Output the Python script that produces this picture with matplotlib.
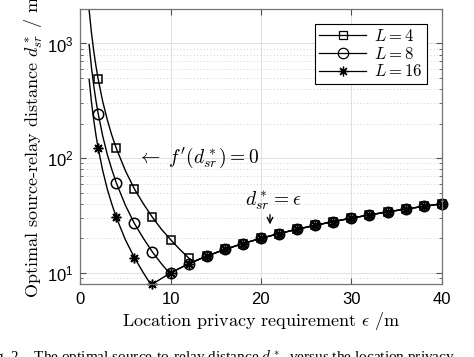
import numpy as np
import matplotlib.pyplot as plt

plt.rcParams['mathtext.fontset'] = 'cm'
plt.rcParams['font.family'] = ['Liberation Sans', 'DejaVu Sans']

# smooth curves
eps_l4 = [1, 1.25, 1.5, 1.75, 2, 2.5, 3, 3.5, 4, 5, 6, 7, 8, 9, 10, 11, 12, 12.5,
          14, 16, 18, 20, 22, 24, 26, 28, 30, 32, 34, 36, 38, 40]
d_l4 = [1950, 1250, 867, 637, 488, 312, 217, 159, 122, 78, 54, 40, 30.5, 24, 19.5, 16.1, 13.5, 12.5,
        14, 16, 18, 20, 22, 24, 26, 28, 30, 32, 34, 36, 38, 40]
eps_l8 = [1, 1.25, 1.5, 1.75, 2, 2.5, 3, 3.5, 4, 5, 6, 7, 8, 9, 9.9,
          12, 14, 16, 18, 20, 22, 24, 26, 28, 30, 32, 34, 36, 38, 40]
d_l8 = [975, 624, 433, 318, 244, 156, 108, 80, 61, 39, 27, 20, 15.2, 12.0, 9.9,
        12, 14, 16, 18, 20, 22, 24, 26, 28, 30, 32, 34, 36, 38, 40]
eps_l16 = [1, 1.25, 1.5, 1.75, 2, 2.5, 3, 3.5, 4, 5, 6, 7, 7.85,
           10, 12, 14, 16, 18, 20, 22, 24, 26, 28, 30, 32, 34, 36, 38, 40]
d_l16 = [488, 312, 217, 159, 122, 78, 54, 40, 30.5, 19.5, 13.6, 10, 7.85,
         10, 12, 14, 16, 18, 20, 22, 24, 26, 28, 30, 32, 34, 36, 38, 40]

# marker points every 2 m
eps_mk = [2, 4, 6, 8, 10, 12, 14, 16, 18, 20, 22, 24, 26, 28, 30, 32, 34, 36, 38, 40]
mk_l4 = [488, 122, 54, 30.5, 19.5, 13.5, 14, 16, 18, 20, 22, 24, 26, 28, 30, 32, 34, 36, 38, 40]
mk_l8 = [244, 61, 27, 15.2, 10, 12, 14, 16, 18, 20, 22, 24, 26, 28, 30, 32, 34, 36, 38, 40]
mk_l16 = [122, 30.5, 13.6, 8, 10, 12, 14, 16, 18, 20, 22, 24, 26, 28, 30, 32, 34, 36, 38, 40]

fig = plt.figure(figsize=(4.74, 3.57), dpi=100)
ax = fig.add_axes([0.169, 0.2045, 0.763, 0.7705])

series = [(eps_l4, d_l4, mk_l4, 's', 6, r'$L = 4$'),
          (eps_l8, d_l8, mk_l8, 'o', 7.5, r'$L = 8$'),
          (eps_l16, d_l16, mk_l16, (8, 2, 0), 7, r'$L = 16$')]
handles = []
for ex, dy, mk, m, ms, lab in series:
    ax.plot(ex, dy, color='k', lw=1.0)
    ax.plot(eps_mk, mk, ls='none', marker=m, ms=ms, mfc='none', mec='k', mew=1.1, clip_on=False)
    h, = ax.plot([], [], color='k', lw=0.9, marker=m, ms=ms, mfc='none', mec='k', mew=0.9, label=lab)
    handles.append(h)

ax.set_yscale('log')
ax.set_xlim(0, 40)
ax.set_ylim(8, 2000)
ax.set_xticks([0, 10, 20, 30, 40])
ax.tick_params(direction='in', which='both', top=True, right=True, labelsize=12, color='0.3')
ax.tick_params(which='major', length=4)
ax.tick_params(which='minor', length=2)
ax.tick_params(axis='x', pad=6)
ax.tick_params(axis='y', pad=5)
ax.grid(True, which='major', color='0.88', lw=0.7)
ax.grid(True, which='minor', axis='y', color='0.75', lw=0.6, ls=(0, (1, 3)))
for s in ax.spines.values():
    s.set_color('0.45')
    s.set_linewidth(0.9)

ax.set_xlabel(r'Location privacy requirement $\epsilon$ /m', fontsize=13, family='cmr10', labelpad=2)
ax.set_ylabel(r'Optimal source-relay distance $d_{sr}^*$ / m', fontsize=13, family='cmr10', labelpad=1)

ax.text(6.3, 100, r"$\leftarrow\ f'(d_{sr}^*) = 0$", fontsize=14, va='center', ha='left')
ax.text(21.4, 43, r'$d_{sr}^* = \epsilon$', fontsize=14, va='center', ha='center')
ax.annotate('', xy=(21, 25), xytext=(21, 34),
            arrowprops=dict(arrowstyle='->', color='k', lw=1.0))

leg = ax.legend(handles=handles, loc='upper right', fontsize=12, fancybox=False,
                edgecolor='k', framealpha=1, borderaxespad=0.9, handlelength=2.8,
                labelspacing=0.1, borderpad=0.25, handletextpad=0.5)
leg.get_frame().set_linewidth(0.8)

fig.text(-0.035, -0.012, r'Fig. 2.   The optimal source-to-relay distance $d_{sr}^*$  versus the location privacy',
         fontsize=11, family='Liberation Serif', va='baseline', ha='left')

fig.savefig('out.png', dpi=100)
